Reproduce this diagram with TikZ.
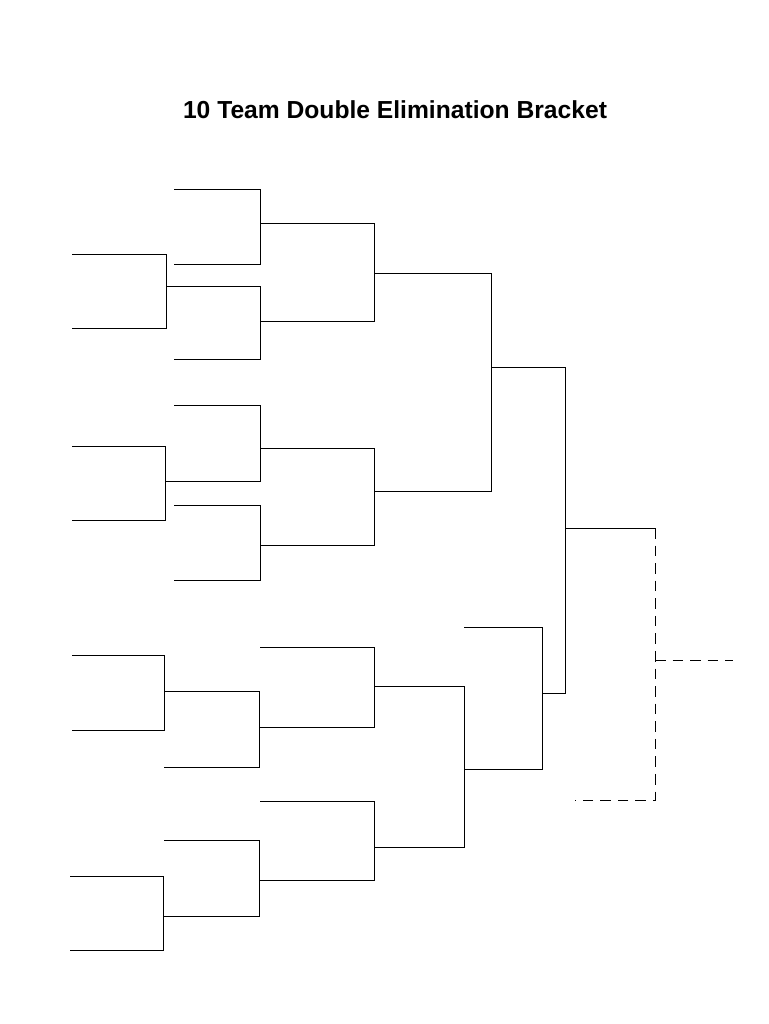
\documentclass[tikz,border=0pt]{standalone}
\usepackage{fontspec}
\setmainfont{Liberation Sans}
\usepackage{graphicx}
\tikzset{
  line/.style={thin},
  final/.style={thin,dashed,dash pattern=on 6pt off 4pt}
}
\begin{document}
\begin{tikzpicture}[x=0.02cm,y=-0.02cm]
    \useasboundingbox (0,0) rectangle (768,1024);
    \node (title) at (395,110) {\resizebox{8.48cm}{!}{\bfseries 10 Team Double Elimination Bracket}};
    % winners bracket: x1/x2/top/bottom
    \foreach \xa/\xb/\ya/\yb in {174/260/189/264, 72/166/254/328,
      260/374/223/321, 174/260/405/481, 72/165/446/520, 174/260/505/580,
      260/374/448/545, 374/491/273/491}{
      \draw[line] (\xa,\ya) -- (\xb,\ya) -- (\xb,\yb) -- (\xa,\yb);
    }
    \draw[line] (166,286) -- (260,286) -- (260,359) -- (174,359);
    \draw[line] (165,481) -- (174,481);
    \draw[line] (491,367) -- (565,367) -- (565,693) -- (542,693);
    \draw[line] (565,528) -- (655,528);
    % losers bracket
    \foreach \xa/\xb/\ya/\yb in {72/164/655/730, 164/259/691/767, 260/374/647/727,
      70/163/876/950, 164/259/840/916, 260/374/801/880,
      374/464/686/847, 464/542/627/769}{
      \draw[line] (\xa,\ya) -- (\xb,\ya) -- (\xb,\yb) -- (\xa,\yb);
    }
    % final
    \draw[final] (655,528) -- (655,800) -- (575,800);
    \draw[final] (655,660) -- (733,660);
\end{tikzpicture}
\end{document}
